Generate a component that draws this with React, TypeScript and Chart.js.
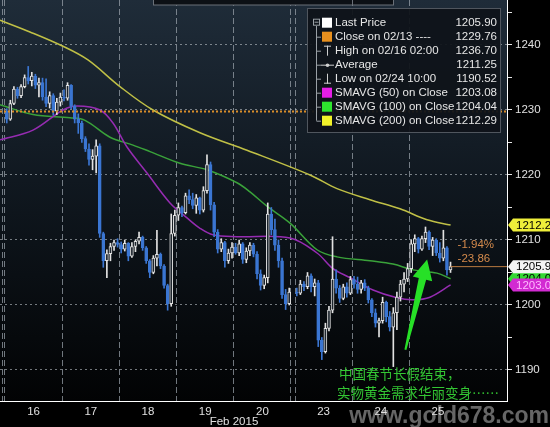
import React, { useEffect, useRef } from 'react';
import { Chart, registerables } from 'chart.js';

Chart.register(...registerables);

// ---------- axis / layout values ----------
const dayLabels = ['16', '17', '18', '19', '20', '23', '24', '25'];
const dayStarts = [0, 1, 2, 3, 4, 5.07, 6.07, 7.07];
const dayBoundaries = [-0.05, 0, 1, 2, 3, 4, 5, 5.07, 6.07, 7.07];
const BARS_PER_DAY = 16;
const X_MIN = -0.087;
const X_MAX = 8.776;
const Y_MIN = 1185.23;
const Y_MAX = 1246.92;
const yTicks = [1190, 1195, 1200, 1205, 1210, 1215, 1220, 1225, 1230, 1235, 1240, 1245];
const monthLabel = 'Feb 2015';

// ---------- candles [open, high, low, close] ----------
const feb16 = [
  [1229.8, 1230.2, 1228.0, 1228.6], [1228.6, 1231.5, 1228.4, 1231.0], [1231.0, 1233.6, 1230.8, 1233.2], [1233.2, 1233.5, 1231.8, 1232.2],
  [1232.2, 1233.9, 1231.9, 1233.6], [1233.6, 1235.4, 1233.4, 1235.0], [1235.0, 1236.7, 1234.0, 1234.5], [1234.5, 1235.8, 1233.7, 1235.2],
  [1235.2, 1235.5, 1233.3, 1233.8], [1233.8, 1234.9, 1232.0, 1234.2], [1234.2, 1234.9, 1231.5, 1232.0], [1232.0, 1234.8, 1230.5, 1231.0],
  [1231.0, 1232.8, 1230.3, 1232.2], [1232.2, 1232.5, 1229.2, 1229.8], [1229.8, 1231.8, 1229.3, 1231.2], [1231.2, 1232.6, 1230.6, 1232.0],
];
const feb17 = [
  [1232.0, 1233.1, 1231.4, 1231.8], [1231.8, 1234.2, 1231.5, 1233.8], [1233.8, 1233.9, 1230.2, 1230.6], [1230.6, 1230.8, 1228.0, 1228.6],
  [1228.6, 1229.4, 1226.4, 1228.0], [1228.0, 1228.3, 1225.0, 1225.6], [1225.6, 1225.9, 1223.6, 1224.0], [1224.0, 1224.8, 1221.5, 1222.4],
  [1222.4, 1223.9, 1220.8, 1222.9], [1222.9, 1225.4, 1220.3, 1224.5], [1224.5, 1224.8, 1210.4, 1211.0], [1211.0, 1211.2, 1205.8, 1206.8],
  [1206.8, 1208.5, 1204.2, 1207.9], [1207.9, 1209.5, 1206.8, 1209.0], [1209.0, 1210.0, 1208.4, 1209.6], [1209.6, 1210.2, 1208.9, 1209.3],
];
const feb18 = [
  [1209.3, 1209.7, 1208.0, 1208.6], [1208.6, 1210.0, 1208.3, 1209.5], [1209.5, 1209.6, 1206.8, 1207.5], [1207.5, 1209.6, 1207.3, 1209.0],
  [1209.0, 1210.0, 1208.2, 1209.8], [1209.8, 1211.2, 1209.4, 1210.4], [1210.4, 1210.6, 1208.4, 1208.8], [1208.8, 1209.0, 1206.4, 1206.8],
  [1206.8, 1207.0, 1204.2, 1205.0], [1205.0, 1207.6, 1204.8, 1207.2], [1207.2, 1211.5, 1206.0, 1207.8], [1207.8, 1208.0, 1205.6, 1206.0],
  [1206.0, 1206.2, 1202.6, 1203.0], [1203.0, 1203.2, 1199.2, 1200.2], [1200.2, 1214.0, 1199.8, 1211.0], [1211.0, 1214.6, 1210.6, 1213.8],
];
const feb19 = [
  [1213.8, 1215.7, 1213.0, 1215.0], [1215.0, 1215.2, 1213.6, 1214.2], [1214.2, 1217.2, 1214.0, 1216.8], [1216.8, 1217.7, 1215.6, 1216.2],
  [1216.2, 1217.2, 1214.8, 1215.3], [1215.3, 1217.0, 1214.1, 1216.5], [1216.5, 1216.6, 1214.0, 1214.6], [1214.6, 1218.2, 1214.3, 1217.6],
  [1217.6, 1223.1, 1217.2, 1221.6], [1221.6, 1222.0, 1214.6, 1215.4], [1215.4, 1215.8, 1210.5, 1211.2], [1211.2, 1211.6, 1208.0, 1208.6],
  [1208.6, 1210.2, 1208.2, 1209.6], [1209.6, 1209.8, 1205.8, 1206.8], [1206.8, 1208.6, 1206.4, 1208.0], [1208.0, 1209.6, 1207.2, 1208.9],
];
const feb20 = [
  [1208.9, 1209.5, 1207.8, 1208.0], [1208.0, 1210.0, 1207.6, 1209.4], [1209.4, 1209.6, 1206.4, 1207.0], [1207.0, 1208.8, 1206.5, 1208.3],
  [1208.3, 1209.6, 1207.6, 1209.2], [1209.2, 1209.5, 1207.4, 1207.8], [1207.8, 1208.2, 1204.0, 1204.8], [1204.8, 1205.4, 1202.3, 1203.0],
  [1203.0, 1204.6, 1202.5, 1204.2], [1204.2, 1215.7, 1203.4, 1214.0], [1214.0, 1215.0, 1210.8, 1211.6], [1211.6, 1213.2, 1208.4, 1209.2],
  [1209.2, 1210.0, 1205.8, 1206.8], [1206.8, 1207.2, 1201.0, 1201.6], [1201.6, 1202.4, 1199.3, 1200.2], [1200.2, 1202.6, 1200.0, 1202.0],
];
const feb23 = [
  [1202.0, 1202.6, 1201.4, 1201.8], [1201.8, 1203.8, 1201.6, 1203.2], [1203.2, 1203.6, 1202.2, 1202.8], [1202.8, 1205.0, 1202.5, 1204.5],
  [1204.5, 1204.8, 1202.0, 1202.8], [1202.8, 1204.0, 1201.4, 1203.4], [1203.4, 1203.8, 1193.6, 1194.6], [1194.6, 1195.0, 1191.6, 1192.8],
  [1192.8, 1197.2, 1192.6, 1196.4], [1196.4, 1199.8, 1196.0, 1199.2], [1199.2, 1210.5, 1198.8, 1204.0], [1204.0, 1205.4, 1201.8, 1202.6],
  [1202.6, 1203.0, 1200.4, 1201.0], [1201.0, 1203.2, 1200.8, 1202.8], [1202.8, 1203.4, 1201.2, 1201.8], [1201.8, 1204.4, 1201.6, 1203.9],
];
const feb24 = [
  [1203.9, 1204.4, 1202.6, 1203.2], [1203.2, 1204.3, 1201.8, 1202.4], [1202.4, 1203.8, 1201.8, 1203.4], [1203.4, 1203.9, 1202.2, 1202.6],
  [1202.6, 1202.9, 1200.3, 1200.8], [1200.8, 1201.0, 1198.2, 1198.8], [1198.8, 1199.4, 1196.6, 1197.2], [1197.2, 1198.0, 1195.1, 1197.6],
  [1197.6, 1201.2, 1197.2, 1200.4], [1200.4, 1200.6, 1197.4, 1198.2], [1198.2, 1199.0, 1196.0, 1196.6], [1196.6, 1199.6, 1190.52, 1198.8],
  [1198.8, 1202.0, 1196.2, 1201.2], [1201.2, 1203.8, 1200.6, 1203.2], [1203.2, 1205.0, 1202.0, 1204.0], [1204.0, 1206.4, 1203.6, 1205.6],
];
const feb25 = [
  [1205.6, 1210.0, 1205.0, 1209.4], [1209.4, 1210.8, 1208.2, 1210.2], [1210.2, 1210.4, 1208.0, 1208.6], [1208.6, 1210.6, 1208.4, 1210.2],
  [1210.2, 1212.0, 1209.6, 1211.2], [1211.2, 1211.4, 1208.5, 1209.0], [1209.0, 1210.4, 1207.6, 1210.0], [1210.0, 1210.2, 1207.6, 1208.0],
  [1208.0, 1209.6, 1206.6, 1207.2], [1207.2, 1211.5, 1206.8, 1208.8], [1208.8, 1209.0, 1204.6, 1205.4], [1205.4, 1206.6, 1205.0, 1205.9],
];
const days = [feb16, feb17, feb18, feb19, feb20, feb23, feb24, feb25];

// ---------- moving averages [x (trading day units), value] ----------
const sma50 = [
  [-0.087, 1225.4], [0.49, 1226.9], [1.014, 1230.0], [1.259, 1230.6], [1.661, 1230.0], [1.888, 1228.0], [2.133, 1224.3],
  [2.483, 1220.3], [2.885, 1215.7], [3.182, 1213.4], [3.409, 1211.8], [3.636, 1210.8], [4.056, 1210.5], [4.983, 1210.3],
  [5.455, 1208.0], [5.734, 1205.6], [6.031, 1204.2], [6.434, 1202.3], [6.853, 1201.1], [7.133, 1200.8], [7.43, 1201.2], [7.79, 1203.08],
];
const sma100 = [
  [-0.087, 1230.8], [0.49, 1229.3], [1.136, 1228.8], [1.399, 1228.4], [1.836, 1225.8], [2.238, 1224.6], [2.535, 1223.6],
  [3.059, 1221.8], [3.531, 1220.8], [4.056, 1218.8], [4.283, 1217.4], [4.58, 1215.2], [4.983, 1212.6], [5.455, 1208.5],
  [5.804, 1207.4], [6.381, 1206.8], [6.783, 1206.3], [7.133, 1205.4], [7.552, 1204.9], [7.79, 1204.04],
];
const sma200 = [
  [-0.087, 1243.8], [0.437, 1242.0], [1.014, 1239.8], [1.451, 1237.7], [2.01, 1233.6], [2.587, 1230.0], [3.409, 1226.5],
  [4.231, 1223.8], [5.332, 1220.0], [5.804, 1217.9], [6.381, 1216.2], [6.906, 1214.8], [7.378, 1213.1], [7.79, 1212.29],
];

const prevClose = 1229.76;
const lastPrice = 1205.9;
const lastX = 7.79;
const changePct = '-1.94%';
const changeAbs = '-23.86';

const legendLabels = [
  'Last Price', 'Close on 02/13 ----', 'High on 02/16 02:00', 'Average', 'Low on 02/24 10:00',
  'SMAVG (50) on Close', 'SMAVG (100) on Close', 'SMAVG (200) on Close',
];
const legendValues = ['1205.90', '1229.76', '1236.70', '1211.25', '1190.52', '1203.08', '1204.04', '1212.29'];

const tagValues = [1204.04, 1212.29, 1203.08, 1205.9];
const tagTexts = ['1204.04', '1212.29', '1203.08', '1205.90'];

const noteLine1 = '中国春节长假结束，';
const noteLine2 = '实物黄金需求华丽变身……';
const arrowTail = [7.0, 1193.1];
const arrowTip = [7.38, 1207.0];
const watermark = 'www.gold678.com';

// ---------- styling ----------
const FONT = '"Liberation Sans", Arial, sans-serif';
const UP = '#e2e2e2';
const UP_FILL = '#1d252d';
const DOWN = '#3b76d2';
const C_SMA50 = '#962cb2';
const C_SMA100 = '#3aa23a';
const C_SMA200 = '#c0c046';
const C_CLOSE = '#d98e2a';
const TAG_FILL = ['#33d833', '#eeee3a', '#d22ad2', '#f4f4f4'];
const TAG_TEXT = ['#000', '#000', '#ffb8ff', '#000'];
const LEGEND_SWATCH = ['#ffffff', '#e8901e', null, null, null, '#e61ee6', '#2ee62e', '#f2f22a'];

type Candle = { x: number; o: number; h: number; l: number; c: number };

const candles: Candle[] = [];
days.forEach((bars, d) =>
  bars.forEach((b, i) =>
    candles.push({ x: dayStarts[d] + (i + 0.5) / BARS_PER_DAY, o: b[0], h: b[1], l: b[2], c: b[3] })
  )
);

const dayCenters = dayStarts.map((s) => s + 0.5);

const bgPlugin = {
  id: 'bgPlugin',
  beforeDraw(chart: any) {
    const { ctx, chartArea: ca, width, height } = chart;
    ctx.save();
    ctx.fillStyle = '#000';
    ctx.fillRect(0, 0, width, height);
    const g = ctx.createLinearGradient(0, ca.top, 0, ca.bottom);
    g.addColorStop(0, '#1f2c39');
    g.addColorStop(0.45, '#101820');
    g.addColorStop(1, '#020304');
    ctx.fillStyle = g;
    ctx.fillRect(ca.left, ca.top, ca.right - ca.left, ca.bottom - ca.top);
    // watermark
    ctx.filter = 'blur(0.7px)';
    ctx.font = 'bold 23px ' + FONT;
    ctx.fillStyle = 'rgba(120,120,120,0.85)';
    ctx.textBaseline = 'middle';
    ctx.textAlign = 'right';
    ctx.fillText(watermark, 549, 417);
    ctx.restore();
  },
};

const overlayPlugin = {
  id: 'overlayPlugin',
  afterDraw(chart: any) {
    const { ctx } = chart;
    const xs = chart.scales.x;
    const ys = chart.scales.y;
    ctx.save();

    // top toolbar remnant
    ctx.fillStyle = '#0c1015';
    ctx.fillRect(153, -2, 241, 7);
    ctx.strokeStyle = '#6a7078';
    ctx.lineWidth = 1;
    ctx.strokeRect(153.5, -2.5, 240, 7.5);
    ctx.beginPath();
    ctx.moveTo(352.5, 0);
    ctx.lineTo(352.5, 5);
    ctx.stroke();

    // legend box
    ctx.fillStyle = 'rgba(15,19,25,0.94)';
    ctx.fillRect(307, 8, 193, 124);
    ctx.strokeStyle = '#50565e';
    ctx.strokeRect(307.5, 8.5, 193, 124);
    const rowY = (i: number) => 22.7 + i * 14;
    // tree lines
    ctx.strokeStyle = '#9aa0a6';
    ctx.beginPath();
    ctx.moveTo(316.5, 26);
    ctx.lineTo(316.5, rowY(7));
    for (let i = 1; i < 8; i++) {
      ctx.moveTo(316.5, rowY(i) + 0.5);
      ctx.lineTo(321, rowY(i) + 0.5);
    }
    ctx.stroke();
    ctx.strokeRect(313.5, rowY(0) - 3.5, 6, 6);
    ctx.beginPath();
    ctx.moveTo(314.5, rowY(0) - 0.5);
    ctx.lineTo(318.5, rowY(0) - 0.5);
    ctx.stroke();
    // symbols
    legendLabels.forEach((label, i) => {
      const yc = rowY(i);
      const sw = LEGEND_SWATCH[i];
      if (sw) {
        ctx.fillStyle = sw;
        ctx.fillRect(322, yc - 5, 10, 10);
      } else {
        ctx.strokeStyle = '#d0d0d0';
        ctx.beginPath();
        if (i === 2) {
          ctx.moveTo(327.5, yc - 5);
          ctx.lineTo(327.5, yc + 5);
          ctx.moveTo(324, yc - 4.5);
          ctx.lineTo(331, yc - 4.5);
        } else if (i === 3) {
          ctx.moveTo(321, yc + 0.5);
          ctx.lineTo(334, yc + 0.5);
        } else {
          ctx.moveTo(327.5, yc - 5);
          ctx.lineTo(327.5, yc + 5);
          ctx.moveTo(324, yc + 4.5);
          ctx.lineTo(331, yc + 4.5);
        }
        ctx.stroke();
        if (i === 3) {
          ctx.fillStyle = '#d0d0d0';
          ctx.beginPath();
          ctx.arc(327.5, yc + 0.5, 1.8, 0, Math.PI * 2);
          ctx.fill();
        }
      }
      ctx.fillStyle = '#e6e6e6';
      ctx.font = '11.5px ' + FONT;
      ctx.textBaseline = 'middle';
      ctx.textAlign = 'left';
      ctx.fillText(label, 335, yc + 0.5);
      ctx.textAlign = 'right';
      ctx.fillText(legendValues[i], 497, yc + 0.5);
    });

    // right-axis value tags
    const axisX = chart.chartArea.right;
    tagValues.forEach((v, i) => {
      const yc = ys.getPixelForValue(v);
      ctx.fillStyle = TAG_FILL[i];
      ctx.beginPath();
      ctx.moveTo(axisX + 1, yc);
      ctx.lineTo(axisX + 6, yc - 6.5);
      ctx.lineTo(chart.width + 5, yc - 6.5);
      ctx.lineTo(chart.width + 5, yc + 6.5);
      ctx.lineTo(axisX + 6, yc + 6.5);
      ctx.closePath();
      ctx.fill();
      ctx.fillStyle = TAG_TEXT[i];
      ctx.font = '11.5px ' + FONT;
      ctx.textAlign = 'left';
      ctx.textBaseline = 'middle';
      ctx.fillText(tagTexts[i], axisX + 9, yc + 0.5);
    });

    // change annotations
    const lp = ys.getPixelForValue(lastPrice);
    const lx = xs.getPixelForValue(lastX) + 7;
    ctx.fillStyle = '#d48a4c';
    ctx.font = '11.5px ' + FONT;
    ctx.textAlign = 'left';
    ctx.textBaseline = 'middle';
    ctx.fillText(changePct, lx, lp - 22);
    ctx.fillText(changeAbs, lx, lp - 7.5);

    // green arrow
    const tx = xs.getPixelForValue(arrowTail[0]);
    const ty = ys.getPixelForValue(arrowTail[1]);
    const px = xs.getPixelForValue(arrowTip[0]);
    const py = ys.getPixelForValue(arrowTip[1]);
    const dx = px - tx;
    const dy = py - ty;
    const len = Math.hypot(dx, dy);
    const ux = dx / len;
    const uy = dy / len;
    const nx = -uy;
    const ny = ux;
    const headLen = 20;
    const bx = px - ux * headLen;
    const by = py - uy * headLen;
    ctx.fillStyle = '#27e027';
    ctx.beginPath();
    ctx.moveTo(tx - nx * 1, ty - ny * 1);
    ctx.lineTo(bx - nx * 3.8, by - ny * 3.8);
    ctx.lineTo(bx - nx * 10, by - ny * 10);
    ctx.lineTo(px, py);
    ctx.lineTo(bx + nx * 10, by + ny * 10);
    ctx.lineTo(bx + nx * 3.8, by + ny * 3.8);
    ctx.lineTo(tx + nx * 1, ty + ny * 1);
    ctx.closePath();
    ctx.fill();

    // Chinese note
    ctx.fillStyle = '#33c633';
    ctx.font = '13.5px "Noto Sans CJK SC", sans-serif';
    ctx.textAlign = 'left';
    ctx.textBaseline = 'middle';
    ctx.fillText(noteLine1, 339, 374);
    ctx.fillText(noteLine2, 337, 393);

    // month label
    ctx.fillStyle = '#e0e0e0';
    ctx.font = '11.5px ' + FONT;
    ctx.textAlign = 'center';
    ctx.fillText(monthLabel, 234, 422);

    ctx.restore();
  },
};

const noPad = (s: any) => {
  s.paddingTop = 0;
  s.paddingBottom = 0;
  s.paddingLeft = 0;
  s.paddingRight = 0;
};

export default function App() {
  const ref = useRef<HTMLCanvasElement | null>(null);

  useEffect(() => {
    if (!ref.current) return;
    const up = (c: Candle) => c.c >= c.o;
    const chart = new Chart(ref.current, {
      type: 'bar',
      data: {
        datasets: [
          {
            type: 'line',
            label: 'SMAVG (200)',
            data: sma200.map(([x, y]) => ({ x, y })),
            borderColor: C_SMA200,
            borderWidth: 1.5,
            pointRadius: 0,
            tension: 0.35,
            order: 9,
          } as any,
          {
            type: 'line',
            label: 'SMAVG (100)',
            data: sma100.map(([x, y]) => ({ x, y })),
            borderColor: C_SMA100,
            borderWidth: 1.5,
            pointRadius: 0,
            tension: 0.35,
            order: 8,
          },
          {
            type: 'line',
            label: 'SMAVG (50)',
            data: sma50.map(([x, y]) => ({ x, y })),
            borderColor: C_SMA50,
            borderWidth: 1.5,
            pointRadius: 0,
            tension: 0.35,
            order: 7,
          },
          {
            type: 'bar',
            label: 'wicks',
            data: candles.map((c) => ({ x: c.x, y: [c.l, c.h] })),
            backgroundColor: candles.map((c) => (up(c) ? UP : DOWN)),
            barThickness: 1,
            grouped: false,
            order: 5,
          },
          {
            type: 'bar',
            label: 'bodies',
            data: candles.map((c) => ({ x: c.x, y: [c.o, c.c] })),
            backgroundColor: candles.map((c) => (up(c) ? UP_FILL : DOWN)),
            borderColor: candles.map((c) => (up(c) ? UP : DOWN)),
            borderWidth: 1,
            borderSkipped: false,
            barThickness: 3,
            minBarLength: 1,
            grouped: false,
            order: 4,
          },
          {
            type: 'line',
            label: 'Close on 02/13',
            data: [{ x: X_MIN, y: prevClose }, { x: X_MAX, y: prevClose }],
            borderColor: C_CLOSE,
            borderWidth: 2,
            borderDash: [2, 2],
            pointRadius: 0,
            order: 1,
          },
          {
            type: 'line',
            label: 'Last Price',
            data: [{ x: lastX, y: lastPrice }, { x: X_MAX, y: lastPrice }],
            borderColor: '#b87a40',
            borderWidth: 1,
            pointRadius: 0,
            order: 1,
          },
        ] as any,
      },
      options: {
        responsive: false,
        maintainAspectRatio: false,
        animation: false,
        devicePixelRatio: 1,
        events: [],
        layout: { padding: 0 },
        plugins: { legend: { display: false }, tooltip: { enabled: false } },
        scales: {
          x: {
            type: 'linear',
            position: 'bottom',
            min: X_MIN,
            max: X_MAX,
            offset: false,
            afterBuildTicks: (s: any) => {
              s.ticks = dayCenters.map((v) => ({ value: v }));
            },
            afterFit: (s: any) => {
              s.height = 26;
              noPad(s);
            },
            ticks: {
              autoSkip: false,
              maxRotation: 0,
              padding: 4,
              color: '#e0e0e0',
              font: { family: FONT, size: 11.5 },
              callback: (_v: any, i: number) => dayLabels[i],
            },
            grid: { display: false, drawTicks: false, offset: false },
            border: { display: true, color: '#ffffff', width: 1 },
          },
          x2: {
            type: 'linear',
            position: 'bottom',
            min: X_MIN,
            max: X_MAX,
            offset: false,
            afterBuildTicks: (s: any) => {
              s.ticks = dayBoundaries.map((v) => ({ value: v }));
            },
            afterFit: (s: any) => {
              s.height = 0;
              noPad(s);
            },
            ticks: { display: false },
            grid: { display: true, drawTicks: false, color: 'rgba(160,168,176,0.7)', lineWidth: 1, offset: false },
            border: { display: false, dash: [6, 3] },
          },
          y: {
            type: 'linear',
            position: 'right',
            min: Y_MIN,
            max: Y_MAX,
            afterBuildTicks: (s: any) => {
              s.ticks = yTicks.map((v) => ({ value: v }));
            },
            afterFit: (s: any) => {
              s.width = 43;
              noPad(s);
            },
            ticks: {
              padding: 3,
              color: '#e0e0e0',
              font: { family: FONT, size: 11.5 },
              callback: (v: any) => (Number(v) % 10 === 0 ? String(v) : ''),
            },
            grid: {
              drawTicks: true,
              tickLength: 5,
              tickColor: '#e6e6e6',
              color: (c: any) =>
                c.tick && c.tick.value % 10 === 0 ? 'rgba(190,196,202,0.6)' : 'rgba(0,0,0,0)',
            },
            border: { display: true, color: '#ffffff', width: 1, dash: [2, 3] },
          },
        },
      } as any,
      plugins: [bgPlugin, overlayPlugin],
    });
    return () => chart.destroy();
  }, []);

  return (
    <div style={{ position: 'fixed', left: 0, top: 0, width: 550, height: 427, background: '#000' }}>
      <canvas ref={ref} width={550} height={427} style={{ display: 'block', width: 550, height: 427 }} />
    </div>
  );
}
